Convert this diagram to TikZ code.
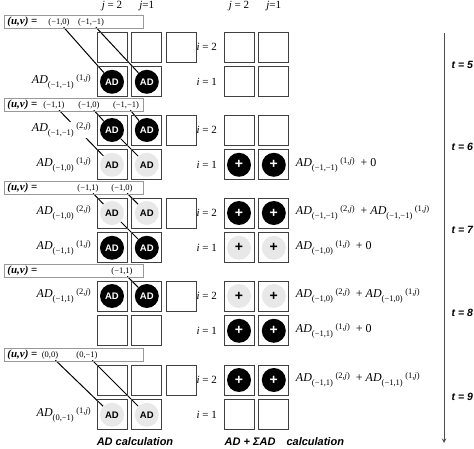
\documentclass[tikz,border=0pt]{standalone}
\usepackage{fontspec}
\setmainfont{Liberation Serif}
\setsansfont{Liberation Sans}
\usetikzlibrary{arrows,positioning,backgrounds}

\newcommand{\adterm}[2]{\textit{AD}\raisebox{-4pt}{\fontsize{8.5}{9}\selectfont #1}\hspace{2.5pt}\raisebox{3pt}{\fontsize{8.5}{9}\selectfont #2}}

\begin{document}
\begin{tikzpicture}[
            x = 1pt, y = -1pt, % pixel grid, y pointing down
            > = stealth, % arrow head style
            node distance = 4pt, % gap between cells
            font = \fontsize{12}{14}\selectfont,
            thick % line style
        ]

        \tikzstyle{cellbox}=[draw = black!75, line width = 0.8pt, minimum size = 30pt, inner sep = 0pt]
        \tikzstyle{disc}=[circle, minimum size = 24pt, inner sep = 0pt, font = \sffamily\bfseries\fontsize{9.5}{10}\selectfont]
        \tikzstyle{adfull}=[disc, fill = black, text = white]
        \tikzstyle{adfaint}=[disc, fill = black!9, text = black]
        \tikzstyle{plusfull}=[adfull, font = \sffamily\bfseries\fontsize{14}{14}\selectfont]
        \tikzstyle{plusfaint}=[adfaint, font = \sffamily\bfseries\fontsize{14}{14}\selectfont]
        \tikzstyle{uvframe}=[draw = black!40, line width = 0.6pt, minimum width = 139pt, minimum height = 13pt, inner sep = 0pt]
        \tikzstyle{uvkey}=[anchor = west, inner sep = 1pt, font = \fontsize{11}{12}\selectfont]
        \tikzstyle{uvnum}=[inner sep = 1pt, font = \fontsize{8.5}{9}\selectfont]
        \tikzstyle{termlabel}=[fill = white, inner sep = 0.5pt]
        \tikzstyle{ilabel}=[font = \fontsize{11}{12}\selectfont]
        \tikzstyle{steplabel}=[anchor = west, font = \sffamily\bfseries\itshape\fontsize{10.5}{12}\selectfont]
        \tikzstyle{caption}=[font = \sffamily\bfseries\itshape\fontsize{11}{12}\selectfont]
        \tikzstyle{shiftline}=[black, line width = 1pt]

        \useasboundingbox (0,0) rectangle (474,449);

        % t = 5
        \node (uv5) [uvframe] at (73.5,22) {};
        \node (uvk5) [uvkey] at (6,22) {\textbf{\textit{(u,v)} =}};
        \node (n5a) [uvnum] at (59,22) {(−1,0)};
        \node (n5b) [uvnum] at (91,22) {(−1,−1)};
        \node (b52a) [cellbox] at (112,47) {};
        \node (b52b) [cellbox, right = of b52a] {};
        \node (b52c) [cellbox, right = of b52b] {};
        \node (b51a) [cellbox, below = of b52a] {};
        \node (b51b) [cellbox, right = of b51a] {};
        \node (d51a) [adfull] at (b51a) {AD};
        \node (d51b) [adfull] at (b51b) {AD};
        \node (l51) [termlabel, left = 5pt of b51a] {\adterm{(−1,−1)}{(1,\textit{j})}};
        \node (s52a) [cellbox] at (239,47) {};
        \node (s52b) [cellbox, right = of s52a] {};
        \node (s51a) [cellbox, below = of s52a] {};
        \node (s51b) [cellbox, right = of s51a] {};
        \node (i52) [ilabel, left = 3pt of s52a] {\textit{i} = 2};
        \node (i51) [ilabel, left = 3pt of s51a] {\textit{i} = 1};

        % column heads
        \node (jl2) [ilabel, above = 17pt of b52a] {\textit{j} = 2};
        \node (jl1) [ilabel, above = 17pt of b52b] {\textit{j}=1};
        \node (jr2) [ilabel, above = 17pt of s52a] {\textit{j} = 2};
        \node (jr1) [ilabel, above = 17pt of s52b] {\textit{j}=1};

        % t = 6
        \node (uv6) [uvframe] at (73.5,105) {};
        \node (uvk6) [uvkey] at (6,105) {\textbf{\textit{(u,v)} =}};
        \node (n6a) [uvnum] at (54,105) {(−1,1)};
        \node (n6b) [uvnum] at (89,105) {(−1,0)};
        \node (n6c) [uvnum] at (126,105) {(−1,−1)};
        \node (b62a) [cellbox] at (112,130) {};
        \node (b62b) [cellbox, right = of b62a] {};
        \node (b62c) [cellbox, right = of b62b] {};
        \node (b61a) [cellbox, below = of b62a] {};
        \node (b61b) [cellbox, right = of b61a] {};
        \node (d62a) [adfull] at (b62a) {AD};
        \node (d62b) [adfull] at (b62b) {AD};
        \node (d61a) [adfaint] at (b61a) {AD};
        \node (d61b) [adfaint] at (b61b) {AD};
        \node (l62) [termlabel, left = 5pt of b62a] {\adterm{(−1,−1)}{(2,\textit{j})}};
        \node (l61) [termlabel, left = 5pt of b61a] {\adterm{(−1,0)}{(1,\textit{j})}};
        \node (s62a) [cellbox] at (239,130) {};
        \node (s62b) [cellbox, right = of s62a] {};
        \node (s61a) [cellbox, below = of s62a] {};
        \node (s61b) [cellbox, right = of s61a] {};
        \node (p61a) [plusfull] at (s61a) {+};
        \node (p61b) [plusfull] at (s61b) {+};
        \node (r61) [right = 3pt of s61b] {\adterm{(−1,−1)}{(1,\textit{j})}\ \ + 0};
        \node (i62) [ilabel, left = 3pt of s62a] {\textit{i} = 2};
        \node (i61) [ilabel, left = 3pt of s61a] {\textit{i} = 1};

        % t = 7
        \node (uv7) [uvframe] at (73.5,188) {};
        \node (uvk7) [uvkey] at (6,188) {\textbf{\textit{(u,v)} =}};
        \node (n7a) [uvnum] at (88,188) {(−1,1)};
        \node (n7b) [uvnum] at (122,188) {(−1,0)};
        \node (b72a) [cellbox] at (112,213) {};
        \node (b72b) [cellbox, right = of b72a] {};
        \node (b72c) [cellbox, right = of b72b] {};
        \node (b71a) [cellbox, below = of b72a] {};
        \node (b71b) [cellbox, right = of b71a] {};
        \node (d72a) [adfaint] at (b72a) {AD};
        \node (d72b) [adfaint] at (b72b) {AD};
        \node (d71a) [adfull] at (b71a) {AD};
        \node (d71b) [adfull] at (b71b) {AD};
        \node (l72) [termlabel, left = 5pt of b72a] {\adterm{(−1,0)}{(2,\textit{j})}};
        \node (l71) [termlabel, left = 5pt of b71a] {\adterm{(−1,1)}{(1,\textit{j})}};
        \node (s72a) [cellbox] at (239,213) {};
        \node (s72b) [cellbox, right = of s72a] {};
        \node (s71a) [cellbox, below = of s72a] {};
        \node (s71b) [cellbox, right = of s71a] {};
        \node (p72a) [plusfull] at (s72a) {+};
        \node (p72b) [plusfull] at (s72b) {+};
        \node (p71a) [plusfaint] at (s71a) {+};
        \node (p71b) [plusfaint] at (s71b) {+};
        \node (r72) [right = 3pt of s72b] {\adterm{(−1,−1)}{(2,\textit{j})}\ \ + \adterm{(−1,−1)}{(1,\textit{j})}};
        \node (r71) [right = 3pt of s71b] {\adterm{(−1,0)}{(1,\textit{j})}\ \ + 0};
        \node (i72) [ilabel, left = 3pt of s72a] {\textit{i} = 2};
        \node (i71) [ilabel, left = 3pt of s71a] {\textit{i} = 1};

        % t = 8
        \node (uv8) [uvframe] at (73.5,271) {};
        \node (uvk8) [uvkey] at (6,271) {\textbf{\textit{(u,v)} =}};
        \node (n8a) [uvnum] at (122,271) {(−1,1)};
        \node (b82a) [cellbox] at (112,296) {};
        \node (b82b) [cellbox, right = of b82a] {};
        \node (b82c) [cellbox, right = of b82b] {};
        \node (b81a) [cellbox, below = of b82a] {};
        \node (b81b) [cellbox, right = of b81a] {};
        \node (d82a) [adfull] at (b82a) {AD};
        \node (d82b) [adfull] at (b82b) {AD};
        \node (l82) [termlabel, left = 5pt of b82a] {\adterm{(−1,1)}{(2,\textit{j})}};
        \node (s82a) [cellbox] at (239,296) {};
        \node (s82b) [cellbox, right = of s82a] {};
        \node (s81a) [cellbox, below = of s82a] {};
        \node (s81b) [cellbox, right = of s81a] {};
        \node (p82a) [plusfaint] at (s82a) {+};
        \node (p82b) [plusfaint] at (s82b) {+};
        \node (p81a) [plusfull] at (s81a) {+};
        \node (p81b) [plusfull] at (s81b) {+};
        \node (r82) [right = 3pt of s82b] {\adterm{(−1,0)}{(2,\textit{j})}\ \ + \adterm{(−1,0)}{(1,\textit{j})}};
        \node (r81) [right = 3pt of s81b] {\adterm{(−1,1)}{(1,\textit{j})}\ \ + 0};
        \node (i82) [ilabel, left = 3pt of s82a] {\textit{i} = 2};
        \node (i81) [ilabel, left = 3pt of s81a] {\textit{i} = 1};

        % t = 9
        \node (uv9) [uvframe] at (73.5,355) {};
        \node (uvk9) [uvkey] at (6,355) {\textbf{\textit{(u,v)} =}};
        \node (n9a) [uvnum] at (50,355) {(0,0)};
        \node (n9b) [uvnum] at (87,355) {(0,−1)};
        \node (b92a) [cellbox] at (112,380) {};
        \node (b92b) [cellbox, right = of b92a] {};
        \node (b92c) [cellbox, right = of b92b] {};
        \node (b91a) [cellbox, below = of b92a] {};
        \node (b91b) [cellbox, right = of b91a] {};
        \node (d91a) [adfaint] at (b91a) {AD};
        \node (d91b) [adfaint] at (b91b) {AD};
        \node (l91) [termlabel, left = 5pt of b91a] {\adterm{(0,−1)}{(1,\textit{j})}};
        \node (s92a) [cellbox] at (239,380) {};
        \node (s92b) [cellbox, right = of s92a] {};
        \node (s91a) [cellbox, below = of s92a] {};
        \node (s91b) [cellbox, right = of s91a] {};
        \node (p92a) [plusfull] at (s92a) {+};
        \node (p92b) [plusfull] at (s92b) {+};
        \node (r92) [right = 3pt of s92b] {\adterm{(−1,1)}{(2,\textit{j})}\ \ + \adterm{(−1,1)}{(1,\textit{j})}};
        \node (i92) [ilabel, left = 3pt of s92a] {\textit{i} = 2};
        \node (i91) [ilabel, left = 3pt of s91a] {\textit{i} = 1};

        % captions
        \node (capl) [caption] at (135,442) {AD calculation};
        \node (capr) [caption, anchor = west] at (221,442) {AD + ΣAD\quad calculation};

        % time axis
        \coordinate (ttop) at (444,33);
        \coordinate (tend) at (444,443);
        \draw[->, black!70, line width = 1pt] (ttop) -- (tend);
        \node (t5) [steplabel] at (448,65) {t = 5};
        \node (t6) [steplabel] at (448,147) {t = 6};
        \node (t7) [steplabel] at (448,230) {t = 7};
        \node (t8) [steplabel] at (448,313) {t = 8};
        \node (t9) [steplabel] at (448,397) {t = 9};

        \begin{scope}[on background layer]
            \path[shiftline] (n5a) edge (d51a);
            \path[shiftline] (n5b) edge (d51b);
            \path[shiftline] (n6a) edge (d61a);
            \path[shiftline] (n6b) edge (d62a);
            \path[shiftline] (n6c) edge (d62b);
            \path[shiftline] (d62a) edge (d61b);
            \path[shiftline] (n7a) edge (d72a);
            \path[shiftline] (n7b) edge (d72b);
            \path[shiftline] (d72a) edge (d71b);
            \path[shiftline] (n8a) edge (d82b);
            \path[shiftline] (n9a) edge (d91a);
            \path[shiftline] (n9b) edge (d91b);
        \end{scope}
    \end{tikzpicture}
\end{document}
